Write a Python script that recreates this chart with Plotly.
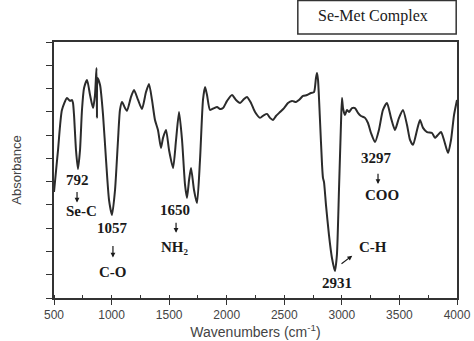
import plotly.graph_objects as go

# FT-IR spectrum of the Se-Met complex (absorbance, arbitrary units)
wavenumber = [
    500, 535, 569, 613, 639, 656, 665, 674, 691, 708, 726, 743, 761, 787, 813,
    839, 856, 869, 873, 878, 900, 926, 952, 978, 1004, 1030, 1056, 1073, 1091,
    1117, 1134, 1169, 1195, 1230, 1264, 1299, 1325, 1351, 1377, 1403, 1429,
    1447, 1473, 1499, 1534, 1560, 1586, 1612, 1638, 1655, 1673, 1690, 1716,
    1742, 1768, 1794, 1812, 1829, 1855, 1890, 1916, 1942, 1968, 2003, 2046,
    2081, 2116, 2150, 2176, 2211, 2246, 2289, 2324, 2350, 2376, 2402, 2428,
    2463, 2498, 2532, 2567, 2602, 2628, 2663, 2698, 2732, 2758, 2775, 2784,
    2793, 2810, 2828, 2836, 2845, 2862, 2888, 2914, 2940, 2957, 2975, 2992,
    3001, 3010, 3027, 3044, 3062, 3088, 3114, 3140, 3166, 3201, 3227, 3253,
    3288, 3322, 3357, 3392, 3427, 3461, 3496, 3531, 3566, 3592, 3618, 3653,
    3679, 3705, 3740, 3783, 3809, 3835, 3861, 3887, 3922, 3948, 3974, 4000,
]
absorbance = [
    4.56, 6.36, 8.08, 8.59, 8.47, 8.51, 8.38, 7.86, 6.36, 5.54, 6.36, 8.08,
    9.02, 9.37, 8.72, 8.16, 8.72, 9.88, 7.74, 9.45, 9.15, 7.86, 5.93, 4.21,
    3.57, 4.64, 6.79, 8.08, 8.42, 8.16, 8.04, 8.64, 8.94, 8.51, 8.12, 8.85,
    9.20, 8.51, 7.65, 7.22, 6.45, 6.88, 7.22, 6.36, 5.59, 6.79, 7.99, 6.79,
    4.86, 4.30, 5.07, 5.59, 4.64, 4.08, 5.93, 8.51, 9.07, 8.72, 8.08, 8.16,
    8.21, 8.12, 8.16, 8.47, 8.72, 8.51, 8.38, 8.55, 8.64, 8.38, 7.99, 7.74,
    7.86, 7.91, 7.74, 7.65, 7.82, 7.99, 8.16, 8.38, 8.47, 8.42, 8.51, 8.68,
    8.72, 8.81, 8.85, 9.45, 9.67, 9.37, 7.65, 5.72, 5.16, 4.98, 4.00, 2.71,
    1.72, 1.16, 1.85, 4.64, 7.43, 8.59, 8.16, 7.86, 8.08, 7.99, 8.16, 8.16,
    7.95, 7.82, 7.74, 7.52, 7.09, 6.70, 7.22, 8.08, 8.38, 7.74, 7.22, 7.74,
    8.08, 7.43, 6.79, 6.58, 7.22, 7.65, 7.31, 7.13, 7.09, 6.88, 7.01, 7.13,
    6.79, 6.23, 6.79, 7.86, 8.51,
]

x_ticks = [500, 1000, 1500, 2000, 2500, 3000, 3500, 4000]

# Band labels: number text, assignment text and a short arrow between them
band_numbers = ["792", "1057", "1650", "2931", "3297"]
band_number_x = [700, 1012, 1551, 2958, 3300]
band_number_y = [5.07, 3.01, 3.78, 0.64, 6.02]
band_groups = ["Se-C", "C-O", "NH\u2082", "C-H", "COO"]
band_group_x = [743, 1012, 1551, 3270, 3349]
band_group_y = [3.74, 1.12, 2.19, 2.19, 4.43]
arrow_x0 = [700, 1012, 1560, 2984, 3314]
arrow_y0 = [4.62, 2.30, 3.30, 1.42, 5.40]
arrow_x1 = [700, 1012, 1560, 3090, 3314]
arrow_y1 = [4.10, 1.74, 2.80, 1.82, 4.90]

fig = go.Figure()
fig.add_trace(go.Scatter(
    x=wavenumber, y=absorbance, mode="lines",
    line=dict(color="#2b2b2b", width=2, shape="spline", smoothing=0.6),
    hoverinfo="skip", showlegend=False,
))

serif = dict(family="Liberation Serif", size=15, color="#1a1a1a")
annotations = []
for t, x, y in zip(band_numbers, band_number_x, band_number_y):
    annotations.append(dict(x=x, y=y, text=f"<b>{t}</b>", showarrow=False,
                            font=serif, xref="x", yref="y",
                            xanchor="center", yanchor="middle"))
for t, x, y in zip(band_groups, band_group_x, band_group_y):
    annotations.append(dict(x=x, y=y, text=f"<b>{t}</b>", showarrow=False,
                            font=serif, xref="x", yref="y",
                            xanchor="center", yanchor="middle"))
for x0, y0, x1, y1 in zip(arrow_x0, arrow_y0, arrow_x1, arrow_y1):
    annotations.append(dict(x=x1, y=y1, ax=x0, ay=y0, xref="x", yref="y",
                            axref="x", ayref="y", text="", showarrow=True,
                            arrowhead=2, arrowsize=0.8, arrowwidth=1.2,
                            arrowcolor="#1a1a1a"))
annotations.append(dict(x=0.792, y=1.103, xref="paper", yref="paper",
                        xanchor="center", yanchor="middle",
                        text="Se-Met Complex", showarrow=False,
                        font=dict(family="Liberation Serif", size=16, color="#1a1a1a")))

fig.update_layout(
    width=474, height=341,
    margin=dict(l=54, r=17, t=42, b=43),
    paper_bgcolor="white", plot_bgcolor="white",
    annotations=annotations,
    shapes=[dict(type="rect", xref="paper", yref="paper",
                 x0=0.605, x1=0.998, y0=1.031, y1=1.162,
                 line=dict(color="#333333", width=1.5))],
    xaxis=dict(
        range=[500, 4000], tickvals=x_ticks, ticks="outside", ticklen=5,
        tickwidth=1.2, tickcolor="#333333", automargin=False,
        minor=dict(dtick=250, ticks="inside", ticklen=3, tickcolor="#333333"),
        showgrid=False, zeroline=False, showline=True, linecolor="#333333",
        linewidth=1.5, mirror=True,
        tickfont=dict(family="Liberation Sans", size=12, color="#444444"),
        title=dict(text="Wavenumbers (cm<sup>-1</sup>)", standoff=6,
                   font=dict(family="Liberation Sans", size=14, color="#444444")),
    ),
    yaxis=dict(
        range=[0, 11], dtick=1, tick0=0, ticks="outside", ticklen=6,
        tickwidth=1.2, tickcolor="#333333", showticklabels=False,
        automargin=False,
        showgrid=False, zeroline=False, showline=True, linecolor="#333333",
        linewidth=1.5, mirror=True,
        title=dict(text="Absorbance", standoff=22,
                   font=dict(family="Liberation Sans", size=13, color="#444444")),
    ),
)

fig.write_html("out.html")
